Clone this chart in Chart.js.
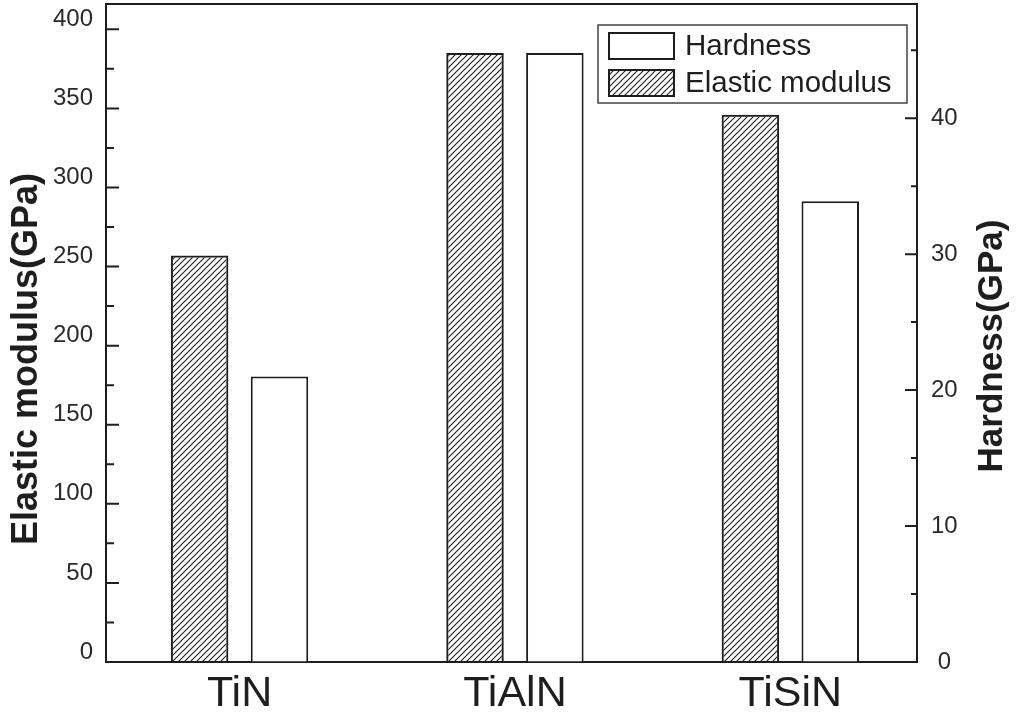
<!DOCTYPE html>
<html>
<head>
<meta charset="utf-8">
<script src="https://cdn.jsdelivr.net/npm/chart.js@4.4.1/dist/chart.umd.min.js"></script>
<style>
  html, body { margin: 0; padding: 0; background: #fff; }
  #wrap { width: 1020px; height: 716px; }
</style>
</head>
<body>
<div id="wrap"><canvas id="chart" width="1020" height="716"></canvas></div>
<script>
const categories = ["TiN", "TiAlN", "TiSiN"];
const elasticModulus = [257, 385, 346];
const hardness = [21.0, 44.8, 33.9];
const elasticTicks = [0, 50, 100, 150, 200, 250, 300, 350, 400];
const hardnessTicks = [0, 10, 20, 30, 40];
const leftTitle = "Elastic modulus(GPa)";
const rightTitle = "Hardness(GPa)";

const ink = "#1e1e1e";
const fontFamily = "'Liberation Sans', Arial, sans-serif";

const canvas = document.getElementById("chart");
const ctx = canvas.getContext("2d");

// diagonal hatch for the elastic modulus bars
function makeHatch() {
  const c = document.createElement("canvas");
  c.width = 6;
  c.height = 6;
  const g = c.getContext("2d");
  g.strokeStyle = ink;
  g.lineWidth = 1.1;
  g.beginPath();
  g.moveTo(0, 6); g.lineTo(6, 0);
  g.moveTo(-1, 1); g.lineTo(1, -1);
  g.moveTo(5, 7); g.lineTo(7, 5);
  g.stroke();
  return ctx.createPattern(c, "repeat");
}
const hatch = makeHatch();

function minorsOf(ticks, max) {
  const step = ticks[1] - ticks[0];
  const out = [];
  ticks.forEach((t) => {
    if (t + step / 2 <= max) out.push(t + step / 2);
  });
  return out;
}

// ticks pointing into the plot, top border, axis titles and legend
const frame = {
  id: "frame",
  afterDraw(chart) {
    const c = chart.ctx;
    const area = chart.chartArea;
    const left = chart.scales.y;
    const right = chart.scales.y1;
    c.save();
    c.strokeStyle = ink;
    c.lineWidth = 2;
    c.beginPath();
    elasticTicks.forEach((v) => {
      const y = left.getPixelForValue(v);
      c.moveTo(area.left, y); c.lineTo(area.left + 13, y);
    });
    minorsOf(elasticTicks, left.max).forEach((v) => {
      const y = left.getPixelForValue(v);
      c.moveTo(area.left, y); c.lineTo(area.left + 8, y);
    });
    hardnessTicks.forEach((v) => {
      const y = right.getPixelForValue(v);
      c.moveTo(area.right, y); c.lineTo(area.right - 12, y);
    });
    minorsOf(hardnessTicks, right.max).forEach((v) => {
      const y = right.getPixelForValue(v);
      c.moveTo(area.right, y); c.lineTo(area.right - 6, y);
    });
    c.moveTo(area.left - 1, area.top);
    c.lineTo(area.right + 1, area.top);
    c.stroke();

    // axis titles, both reading upwards
    c.fillStyle = ink;
    c.textAlign = "center";
    c.textBaseline = "middle";
    c.font = "bold 36px " + fontFamily;
    c.save();
    c.translate(27, 359);
    c.rotate(-Math.PI / 2);
    c.fillText(leftTitle, 0, 0);
    c.restore();
    c.font = "bold 35px " + fontFamily;
    c.save();
    c.translate(992, 346);
    c.rotate(-Math.PI / 2);
    c.fillText(rightTitle, 0, 0);
    c.restore();

    // legend box
    const bx = area.right - 319, by = area.top + 21, bw = 309, bh = 78;
    c.lineWidth = 1.5;
    c.strokeStyle = "#444";
    c.fillStyle = "#fff";
    c.fillRect(bx, by, bw, bh);
    c.strokeRect(bx, by, bw, bh);
    const items = [
      { label: chart.data.datasets[1].label, fill: "#fff" },
      { label: chart.data.datasets[0].label, fill: hatch },
    ];
    c.font = "29.5px " + fontFamily;
    c.textAlign = "left";
    c.textBaseline = "middle";
    items.forEach((it, i) => {
      const sy = by + 8 + i * 37;
      c.fillStyle = it.fill;
      c.fillRect(bx + 11, sy, 65, 26);
      c.strokeStyle = ink;
      c.lineWidth = 2;
      c.strokeRect(bx + 11, sy, 65, 26);
      c.fillStyle = ink;
      c.fillText(it.label, bx + 87, sy + 14);
    });
    c.restore();
  },
};

new Chart(ctx, {
  type: "bar",
  data: {
    datasets: [
      {
        label: "Elastic modulus",
        data: categories.map((c, i) => ({ x: i, y: elasticModulus[i] })),
        backgroundColor: hatch,
        borderColor: ink,
        borderWidth: 2,
        yAxisID: "y",
      },
      {
        label: "Hardness",
        data: categories.map((c, i) => ({ x: i, y: hardness[i] })),
        backgroundColor: "#fff",
        borderColor: ink,
        borderWidth: 2,
        yAxisID: "y1",
      },
    ],
  },
  options: {
    responsive: false,
    animation: false,
    devicePixelRatio: 1,
    barPercentage: 0.72,
    categoryPercentage: 0.58,
    layout: { padding: { top: 4 } },
    plugins: {
      legend: { display: false },
      tooltip: { enabled: false },
    },
    scales: {
      x: {
        type: "linear",
        offset: false,
        min: -0.485,
        max: 2.46,
        afterBuildTicks: (s) => {
          s.ticks = categories.map((c, i) => ({ value: i }));
        },
        afterFit: (s) => {
          s.height = 54;
          s.paddingLeft = 0;
          s.paddingRight = 0;
        },
        grid: { display: false, drawTicks: false, offset: false },
        border: { display: true, color: ink, width: 2 },
        ticks: {
          callback: (v) => categories[v],
          color: ink,
          padding: 6,
          maxRotation: 0,
          font: { family: fontFamily, size: 43 },
        },
      },
      y: {
        position: "left",
        min: 0,
        max: 416,
        afterBuildTicks: (s) => {
          s.ticks = elasticTicks.map((v) => ({ value: v }));
        },
        afterFit: (s) => {
          s.width = 106;
          s.paddingTop = 0;
          s.paddingBottom = 0;
        },
        grid: { drawOnChartArea: false, drawTicks: false },
        border: { display: true, color: ink, width: 2 },
        ticks: {
          color: "#2a2a2a",
          padding: 13,
          labelOffset: -10,
          font: { family: fontFamily, size: 24 },
        },
      },
      y1: {
        position: "right",
        min: 0,
        max: 48.4,
        afterBuildTicks: (s) => {
          s.ticks = hardnessTicks.map((v) => ({ value: v }));
        },
        afterFit: (s) => {
          s.width = 103;
          s.paddingTop = 0;
          s.paddingBottom = 0;
        },
        grid: { drawOnChartArea: false, drawTicks: false },
        border: { display: true, color: ink, width: 2 },
        ticks: {
          color: "#2a2a2a",
          padding: 14,
          crossAlign: "center",
          font: { family: fontFamily, size: 24 },
        },
      },
    },
  },
  plugins: [frame],
});
</script>
</body>
</html>
